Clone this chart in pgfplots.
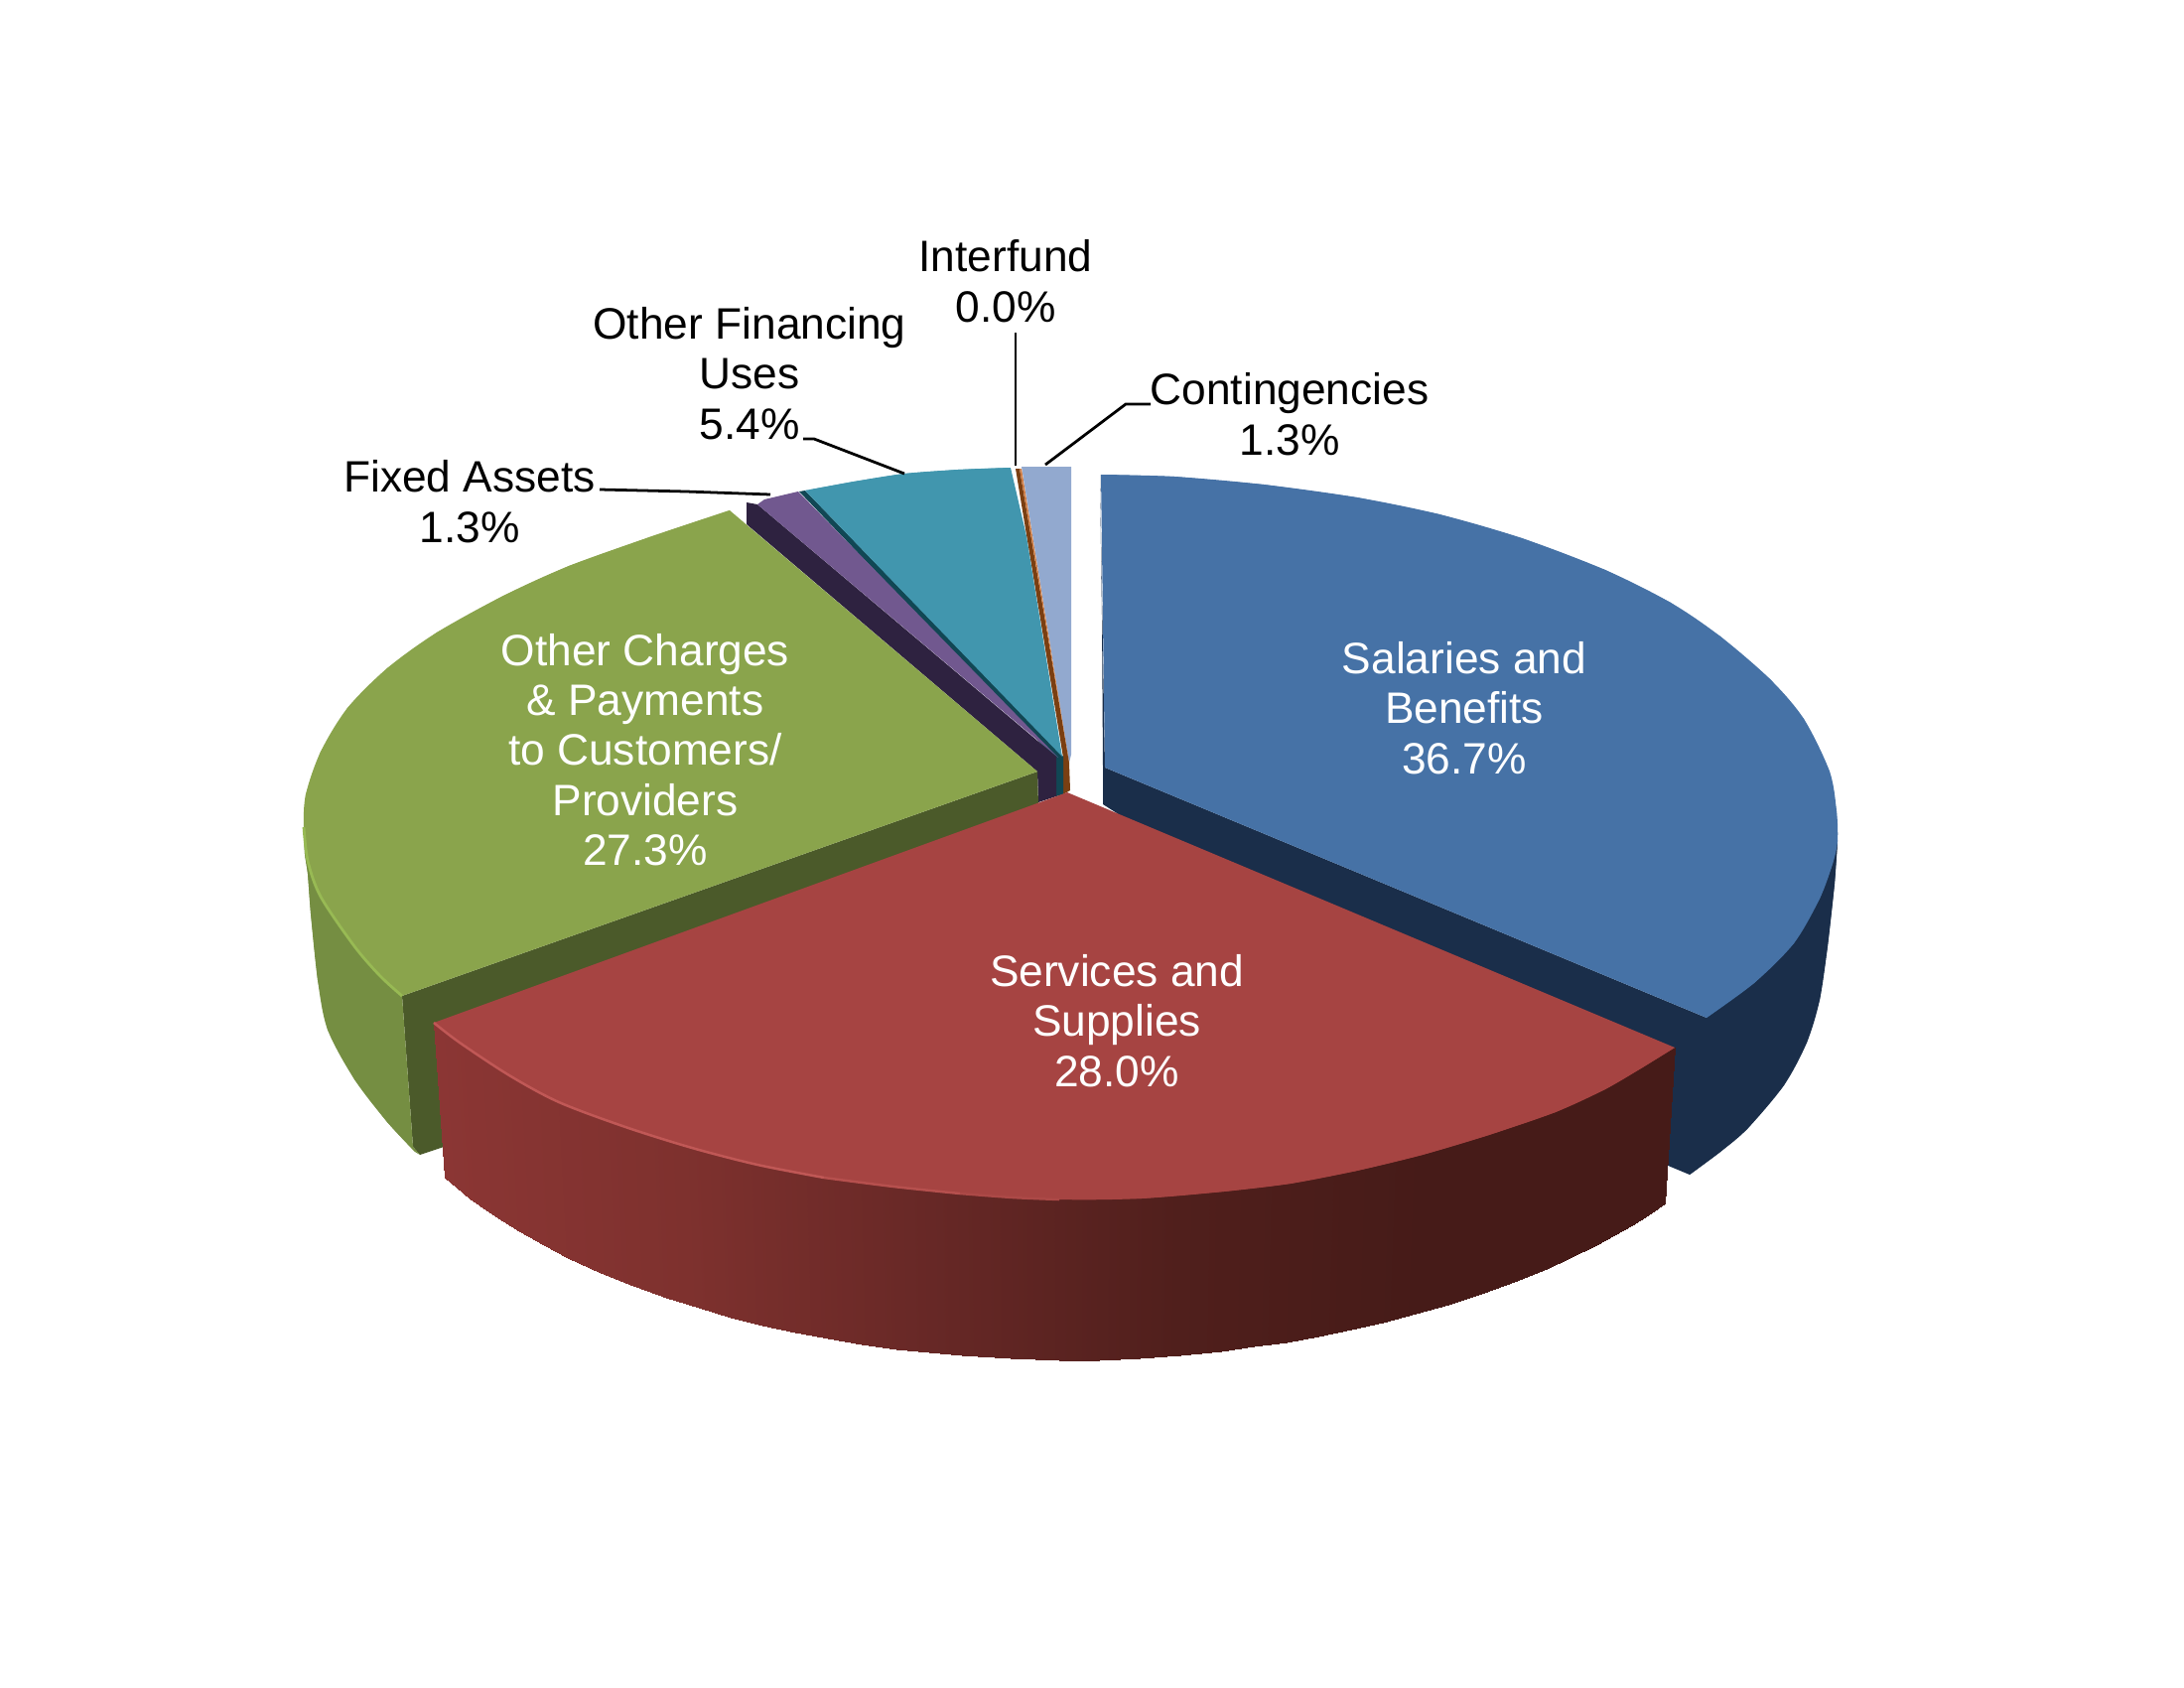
\documentclass[border=0pt]{standalone}
\usepackage{fontspec}
\setmainfont{Liberation Sans}
\usepackage{pgfplots}
\pgfplotsset{compat=1.18}

\definecolor{bluetop}{RGB}{70,114,166}
\definecolor{bluewall}{RGB}{26,46,74}
\definecolor{redtop}{RGB}{166,68,66}
\definecolor{redrim}{RGB}{192,88,86}
\definecolor{greentop}{RGB}{138,164,76}
\definecolor{greenrim}{RGB}{152,186,84}
\definecolor{greenwall}{RGB}{117,142,66}
\definecolor{greendark}{RGB}{75,90,42}
\definecolor{purpletop}{RGB}{113,88,143}
\definecolor{purpledark}{RGB}{46,34,64}
\definecolor{tealtop}{RGB}{65,150,174}
\definecolor{tealdark}{RGB}{17,71,84}
\definecolor{brownfill}{RGB}{122,63,18}
\definecolor{orangefill}{RGB}{205,125,70}
\definecolor{lightblue}{RGB}{146,169,207}

\tikzset{
  face/.style={draw=none,fill=#1},
  leader/.style={draw=black,line width=1pt},
  lbl/.style={align=center,font=\fontsize{16}{18.2}\selectfont,text=#1,inner sep=0pt},
}

\begin{document}
\begin{tikzpicture}
\useasboundingbox (0,0) rectangle (11in,8.5in);
\begin{axis}[
  at={(0,0)},anchor=south west,
  width=11in,height=8.5in,scale only axis,
  xmin=0,xmax=2200,ymin=0,ymax=1700,y dir=reverse,
  hide axis,no markers,
  point meta min=437,point meta max=1687,
  colormap={redwall}{
    rgb255=(139,54,52) rgb255=(126,49,46) rgb255=(103,40,38)
    rgb255=(80,31,28) rgb255=(70,27,24) rgb255=(70,27,24)},
]
% light blue slice
\addplot[face=lightblue] coordinates {(1029,470) (1079,470) (1079,760) (1077,768)};
% brown sliver (interfund)
\addplot[face=brownfill] coordinates {(1023,472) (1027,472) (1077,768) (1078,796) (1071,800) (1071,763)};
\addplot[face=orangefill] coordinates {(1027,472) (1029,472) (1077,768)};
% teal slice
\addplot[face=tealdark] coordinates {(805,495) (811,494) (1071,762) (1071,800) (1064,802) (1064,765)};
\addplot[face=tealtop] coordinates {(811,494) (860,485) (911,477) (965,473) (1018,471) (1034,540) (1070,762)};
\addplot[face=tealtop,smooth] coordinates {(811,494) (860,485) (911,477) (965,473) (1018,471)};
% purple slice
\addplot[face=purpledark] coordinates {(752,506) (763,508) (1064,762) (1064,802) (1046,808) (1045,777) (752,528)};
\addplot[face=purpletop] coordinates {(763,508) (770,503) (804,495) (1066,763)};
% green slice
\addplot[face=greendark] coordinates {(405,1003) (1045,777) (1046,810) (447,1155) (423,1163) (416,1155)};
\addplot[face=greenwall] coordinates {(306,833) (307,860) (310,880) (313,920) (320,987) (330,1037) (357,1087) (390,1130) (418,1160) (423,1163) (416,1155) (405,1003) (383,983) (357,953) (323,903) (310,867)};
\addplot[face=greenwall,smooth] coordinates {(306,833) (307,860) (310,880) (313,920) (320,987) (330,1037) (357,1087) (390,1130) (418,1160)};
\addplot[face=greentop] coordinates {(735,514) (657,540) (573,570) (507,600) (440,637) (390,673) (350,713) (323,757) (308,800) (306,833) (310,867) (323,903) (357,953) (383,983) (405,1003) (1045,777)};
\addplot[face=greentop,smooth] coordinates {(735,514) (657,540) (573,570) (507,600) (440,637) (390,673) (350,713) (323,757) (308,800) (306,833) (310,867) (323,903) (357,953) (383,983) (405,1003)};
\addplot[draw=greenrim,line width=1pt,smooth] coordinates {(306,833) (310,867) (323,903) (357,953) (383,983) (405,1003)};
% blue slice
\addplot[face=bluewall] coordinates {(1108,478) (1110,620) (1111,773) (1111,810) (1678,1173) (1702,1183) (1733,1160) (1760,1137) (1797,1093) (1820,1050) (1833,1007) (1841,953) (1848,890) (1851,847) (1719,1025) (1113,773)};
\addplot[face=bluewall,smooth] coordinates {(1702,1183) (1733,1160) (1760,1137) (1797,1093) (1820,1050) (1833,1007) (1841,953) (1848,890) (1851,847)};
\addplot[face=bluetop] coordinates {(1109,478) (1183,480) (1273,488) (1367,501) (1450,518) (1533,542) (1617,574) (1683,607) (1733,641) (1783,684) (1817,724) (1843,777) (1850,817) (1851,847) (1846,870) (1833,905) (1807,950) (1767,990) (1719,1025) (1113,773)};
\addplot[face=bluetop,smooth] coordinates {(1109,478) (1183,480) (1273,488) (1367,501) (1450,518) (1533,542) (1617,574) (1683,607) (1733,641) (1783,684) (1817,724) (1843,777) (1850,817) (1851,847) (1846,870) (1833,905) (1807,950) (1767,990) (1719,1025)};
% red slice: wall with its shading, then top
\addplot[surf,shader=interp,mesh/rows=2,point meta=explicit] table[x=x,y=y,meta=c] {
x y c
437 1030 437
449 1031 449
462 1042 462
480 1054 480
497 1065 497
513 1075 513
539 1089 539
563 1102 563
597 1117 597
630 1130 630
664 1142 664
697 1152 697
730 1161 730
763 1169 763
796 1177 796
830 1183 830
864 1189 864
900 1193 900
934 1197 934
967 1200 967
1017 1203 1017
1067 1205 1067
1108 1205 1108
1149 1203 1149
1191 1200 1191
1233 1196 1233
1267 1191 1267
1300 1187 1300
1333 1181 1333
1366 1174 1366
1399 1167 1399
1432 1158 1432
1466 1149 1466
1500 1138 1500
1533 1126 1533
1567 1113 1567
1592 1101 1592
1618 1089 1618
1636 1079 1636
1654 1069 1654
1671 1059 1671
1687 1055 1687
448 1186 437
460 1196 449
473 1207 462
490 1219 480
507 1230 497
523 1240 513
548 1254 539
572 1267 563
605 1282 597
638 1295 630
671 1307 664
704 1317 697
736 1327 730
768 1335 763
801 1342 796
834 1348 830
868 1354 864
903 1359 900
936 1362 934
969 1365 967
1018 1368 1017
1067 1370 1067
1107 1370 1108
1148 1368 1149
1189 1365 1191
1230 1361 1233
1263 1356 1267
1296 1352 1300
1328 1346 1333
1361 1339 1366
1393 1332 1399
1426 1323 1432
1459 1314 1466
1492 1303 1500
1525 1291 1533
1558 1278 1567
1583 1266 1592
1608 1254 1618
1626 1244 1636
1644 1234 1654
1660 1224 1671
1677 1212 1687
};
\addplot[face=redtop] coordinates {(1075,798) (437,1030) (463,1050) (513,1083) (563,1110) (630,1135) (697,1156) (763,1173) (830,1186) (900,1195) (967,1202) (1067,1208) (1150,1207) (1233,1200) (1300,1192) (1367,1179) (1433,1163) (1500,1143) (1567,1120) (1617,1097) (1653,1076) (1687,1055)};
\addplot[face=redtop,smooth] coordinates {(437,1030) (463,1050) (513,1083) (563,1110) (630,1135) (697,1156) (763,1173) (830,1186) (900,1195) (967,1202) (1067,1208) (1150,1207) (1233,1200) (1300,1192) (1367,1179) (1433,1163) (1500,1143) (1567,1120) (1617,1097) (1653,1076) (1687,1055)};
% the rim highlight fades out towards the middle
\addplot[draw=redrim,line width=0.9pt,smooth] coordinates {(437,1030) (463,1050) (513,1083) (563,1110) (630,1135) (697,1156) (763,1173) (830,1186)};
\addplot[draw=redrim!60!redtop,line width=0.9pt,smooth] coordinates {(830,1186) (900,1195) (967,1202)};
\addplot[draw=redrim!25!redtop,line width=0.9pt,smooth] coordinates {(967,1202) (1020,1206) (1067,1208)};
% leaders
\addplot[leader] coordinates {(604,493) (691,495) (776,498)};
\addplot[leader] coordinates {(809,442) (820,442) (911,477)};
\addplot[leader] coordinates {(1023,335) (1023,469)};
\addplot[leader] coordinates {(1159,407) (1134,407) (1053,468)};
% labels
\node[lbl=white] at (axis cs:1475,713) {Salaries and\\Benefits\\36.7\%};
\node[lbl=white] at (axis cs:1125,1028) {Services and\\Supplies\\28.0\%};
\node[lbl=white] at (axis cs:650,755) {Other Charges\\\& Payments\\to Customers/\\Providers\\27.3\%};
\node[lbl=black] at (axis cs:473,505) {Fixed Assets\\1.3\%};
\node[lbl=black] at (axis cs:755,376) {Other Financing\\Uses\\5.4\%};
\node[lbl=black] at (axis cs:1013,283) {Interfund\\0.0\%};
\node[lbl=black] at (axis cs:1299,417) {Contingencies\\1.3\%};
\end{axis}
\end{tikzpicture}
\end{document}
